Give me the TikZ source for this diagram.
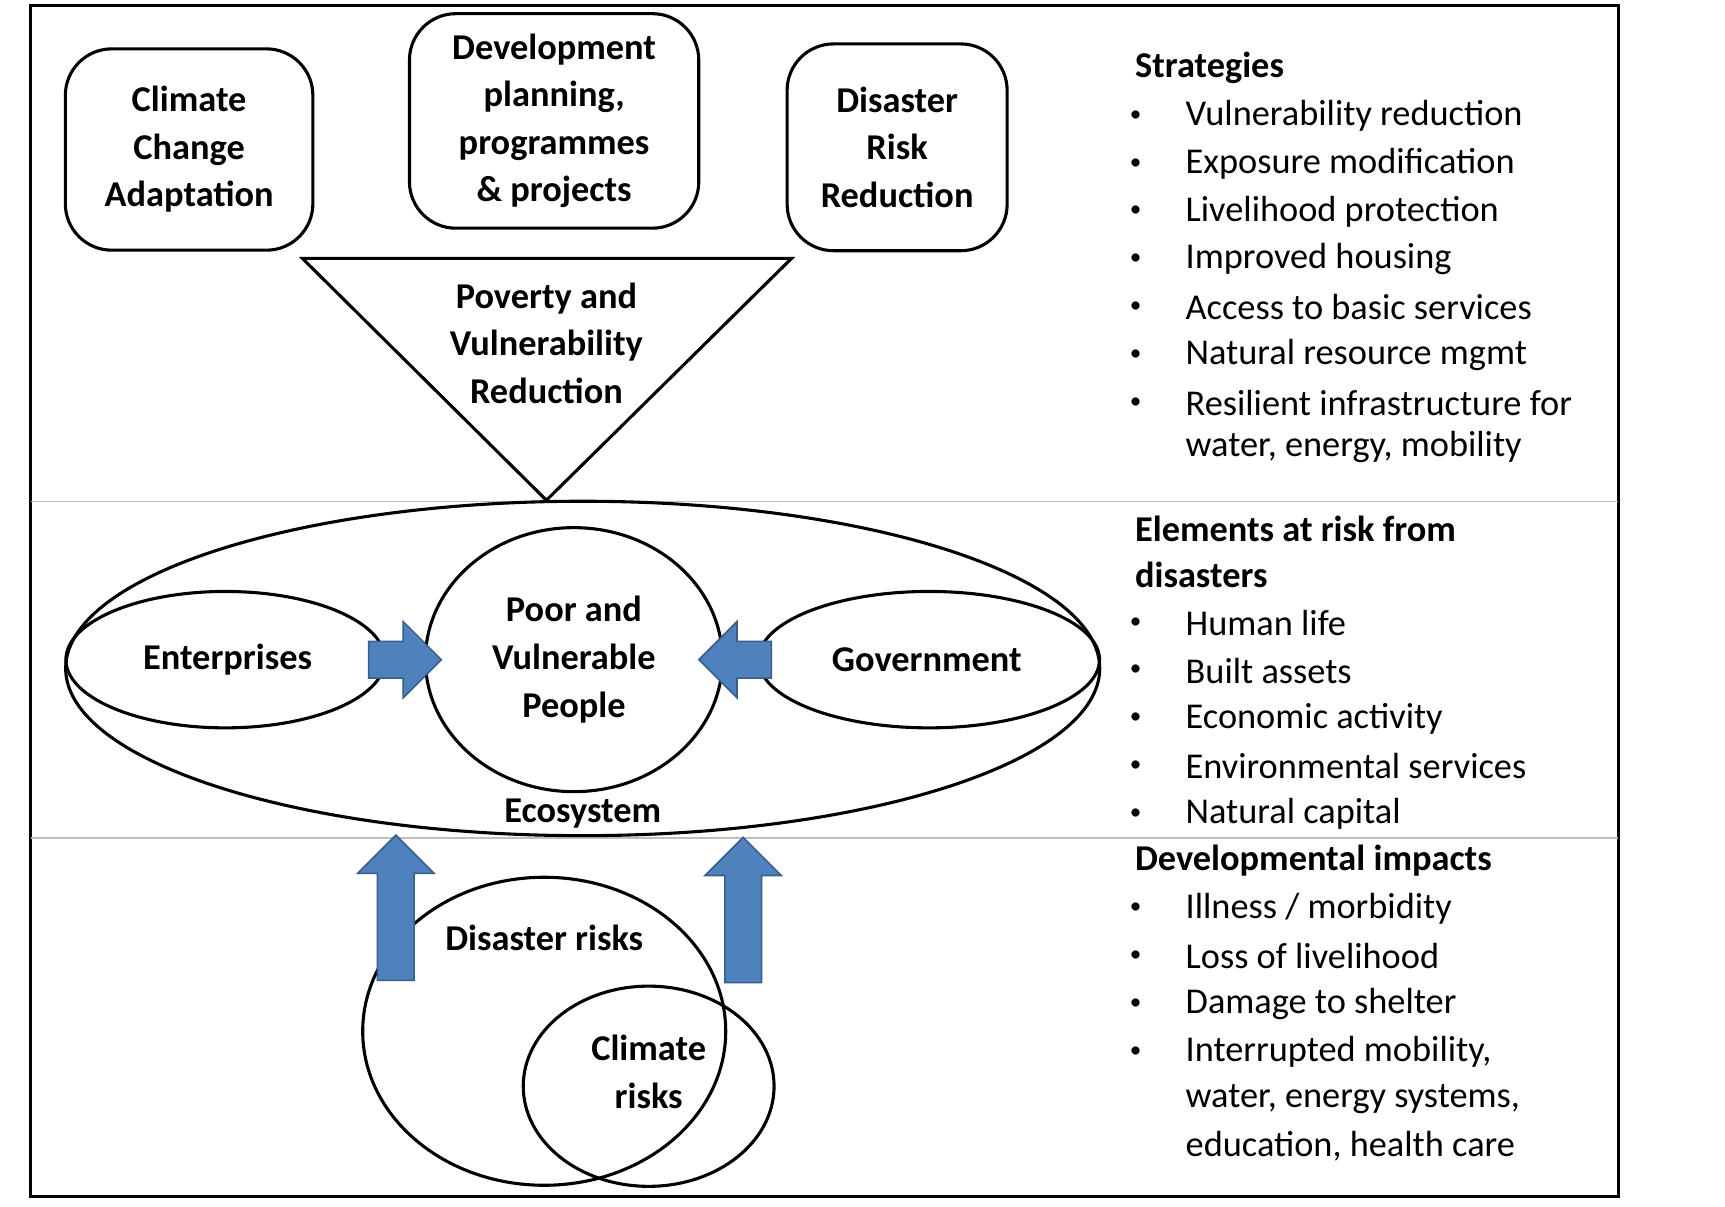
\documentclass[tikz,border=0pt]{standalone}
\usepackage{fontspec}
\setmainfont{Carlito}
\usetikzlibrary{shapes.geometric, shapes.arrows, positioning}
\definecolor{arrowblue}{RGB}{79, 129, 189}
\definecolor{arrowedge}{RGB}{56, 93, 138}
\definecolor{rulegray}{RGB}{190, 190, 190}
\tikzset{
  frame/.style = {rectangle, rounded corners=12pt, draw=black, thick, font=\bfseries\fontsize{9.4}{12.3}\selectfont, align=center, inner sep=0pt},
  oval/.style = {ellipse, draw=black, thick, inner sep=0pt},
  label/.style = {font=\bfseries\fontsize{9.4}{12.3}\selectfont, align=center},
  head/.style = {font=\bfseries\fontsize{9.4}{12.3}\selectfont, anchor=west},
  item/.style = {font=\fontsize{9.4}{12.3}\selectfont, anchor=west},
  dot/.style = {font=\fontsize{6}{8}\selectfont},
  bigarrow/.style = {single arrow, draw=arrowedge, fill=arrowblue, inner sep=0.16cm, single arrow head extend=0.18cm, single arrow head indent=0pt, minimum height=#1}
}
\begin{document}
\begin{tikzpicture}[x=0.01cm, y=-0.01cm]
\useasboundingbox (0,0) rectangle (1569,1097);

% Frame and bands
\draw[thick] (28,5) rectangle (1472,1088);
\draw[rulegray] (28,456) -- (1472,456);
\draw[rulegray] (28,762) -- (1472,762);

% Strategy boxes
\node (cca) [frame, minimum width=2.25cm, minimum height=1.83cm] at (172,136) {Climate\\Change\\Adaptation};
\node (dev) [frame, minimum width=2.63cm, minimum height=1.95cm] at (504,110) {Development\\planning,\\programmes\\\& projects};
\node (drr) [frame, minimum width=2.0cm, minimum height=1.88cm] at (816,134) {Disaster\\Risk\\Reduction};

% Funnel
\draw[thick] (275,235) coordinate (tl) -- (720,235) coordinate (tr) -- (497,455) coordinate (tip) -- cycle;
\node (pvr) [label] at (497,312) {Poverty and\\Vulnerability\\Reduction};

% Elements at risk
\node (eco) [oval, minimum width=9.4cm, minimum height=3.04cm] at (530,608) {};
\node (ent) [oval, minimum width=2.9cm, minimum height=1.24cm] at (205,600) {};
\node (gov) [oval, minimum width=3.1cm, minimum height=1.24cm] at (845,600) {};
\node (poor) [oval, minimum width=2.7cm, minimum height=2.4cm, fill=white] at (522,600) {};
\node [label] at (207,600) {Enterprises};
\node [label] at (843,600) {Government};
\node [label] at (522,600) {Poor and\\Vulnerable\\People};
\node [label] at (530,740) {Ecosystem};
\node (arrE) [bigarrow=0.66cm] at (360,600) {};
\node (arrG) [bigarrow=0.66cm, shape border rotate=180] at (677,600) {};

% Hazards
\node (dis) [oval, minimum width=3.3cm, minimum height=2.8cm] at (495,938) {};
\node (cli) [oval, minimum width=2.28cm, minimum height=1.82cm] at (590,988) {};
\node [label] at (495,853) {Disaster risks};
\node [label] at (590,975) {Climate\\risks};
\node (upL) [bigarrow=1.32cm, shape border rotate=90] at (360,834) {};
\node (upR) [bigarrow=1.32cm, shape border rotate=90] at (676,836) {};

% Lists
\node (strat) [head] at (1020,62) {Strategies};
\foreach \t [count=\i] in {Vulnerability reduction, Exposure modification, Livelihood protection, Improved housing, Access to basic services, Natural resource mgmt, Resilient infrastructure for}
  {\node [dot] at (1033,{62+43.5*\i}) {\textbullet}; \node [item] at (1066,{62+43.5*\i}) {\t};}
\node [item] at (1066,407) {water, energy, mobility};

\node (elem) [head] at (1020,481) {Elements at risk from};
\node [head] at (1020,523) {disasters};
\foreach \t [count=\i] in {Human life, Built assets, Economic activity, Environmental services, Natural capital}
  {\node [dot] at (1033,{523+43.5*\i}) {\textbullet}; \node [item] at (1066,{523+43.5*\i}) {\t};}

\node (impact) [head] at (1020,783) {Developmental impacts};
\foreach \t [count=\i] in {Illness / morbidity, Loss of livelihood, Damage to shelter, {Interrupted mobility,}}
  {\node [dot] at (1033,{783+43.5*\i}) {\textbullet}; \node [item] at (1066,{783+43.5*\i}) {\t};}
\node [item] at (1066,1000) {water, energy systems,};
\node [item] at (1066,1043) {education, health care};
\end{tikzpicture}
\end{document}
